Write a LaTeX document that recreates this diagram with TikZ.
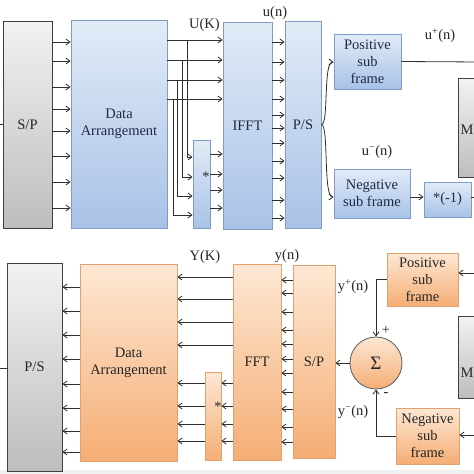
\documentclass[tikz,border=0pt]{standalone}
\usepackage{fontspec}
\setmainfont{Liberation Serif}
\usepackage{xcolor}
\usetikzlibrary{arrows.meta}
\definecolor{bluetop}{HTML}{E2EBF7}
\definecolor{bluebot}{HTML}{A8C2E7}
\definecolor{blueedge}{HTML}{7F9CC6}
\definecolor{orgtop}{HTML}{FDE8D5}
\definecolor{orgbot}{HTML}{F5AD74}
\definecolor{orgedge}{HTML}{E2A26F}
\definecolor{graytop}{HTML}{F2F2F2}
\definecolor{graybot}{HTML}{BDBDBD}
\definecolor{grayedge}{HTML}{404040}
\definecolor{wirec}{HTML}{2E2E2E}
\definecolor{navy}{HTML}{1F2A44}

\begin{document}
\begin{tikzpicture}[x=1pt,y=-1pt,
  font=\fontsize{14.5}{17}\selectfont,
  >={Straight Barb[length=4pt,width=6pt]},
  blk/.style={draw, inner sep=0pt, align=center, line width=0.9pt},
  bbox/.style={blk, draw=blueedge, top color=bluetop, bottom color=bluebot, text=navy},
  obox/.style={blk, draw=orgedge, top color=orgtop, bottom color=orgbot, text=black!85},
  gbox/.style={blk, draw=grayedge, top color=graytop, bottom color=graybot, text=black!85},
  wire/.style={draw=wirec, line width=0.8pt},
  sig/.style={wire, ->},
  tag/.style={inner sep=0pt, text=black!85}]
\useasboundingbox (0,0) rectangle (474,474);
\clip (0,0) rectangle (474,474);
\fill[gray!12] (0,470) rectangle (474,474);

%% transmitter
\node (sp1) [gbox, minimum width=49pt, minimum height=207pt] at (27.5,124.5) {S/P};
\node (da1) [bbox, minimum width=96pt, minimum height=208pt] at (119,124) {Data\\Arrangement};
\node (mul1) [bbox, minimum width=17pt, minimum height=88pt] at (201.5,184) {};
\node (st1) [tag] at (206,177) {*};
\node (ifft) [bbox, minimum width=49pt, minimum height=207pt] at (247.5,125.5) {IFFT};
\node (ps1) [bbox, minimum width=36pt, minimum height=207pt] at (303,124.5) {P/S};
\node (pos1) [bbox, minimum width=67pt, minimum height=55pt] at (367.5,61.5) {Positive\\sub\\frame};
\node (neg1) [bbox, minimum width=76pt, minimum height=49pt] at (372,193.5) {Negative\\sub frame};
\node (inv) [bbox, minimum width=47pt, minimum height=35pt] at (447.5,199.5) {*(-1)};
\node (mod1) [gbox, minimum width=24pt, minimum height=99pt, anchor=north west] at (458,78) {};
\node (mt1) [tag] at (467,130) {M};

\node (uk) [tag, anchor=east] at (220,25) {U(K)};
\node (un) [tag] at (275,13) {u(n)};
\node (up) [tag] at (440,36) {u\textsuperscript{+}(n)};
\node (um) [tag] at (377,152) {u\textsuperscript{−}(n)};

\coordinate (in1) at (0,124);
\coordinate (out1) at (480,62);
\coordinate (out2) at (480,197);
\draw[wire] (in1) -- (in1 -| sp1.west);
\foreach \y in {42,61,87,109,131,156,182,208}
  \draw[sig] (sp1.east |- 0,\y) -- (da1.west |- 0,\y);
\foreach \y/\x/\d in {40/187/157,60/182/177,80/177/196,99/173/215}{
  \draw[sig] (da1.east |- 0,\y) -- (ifft.west |- 0,\y);
  \draw[sig] (da1.east |- 0,\y) -| (\x,\d) -- (mul1.west |- 0,\d);
}
\foreach \y in {154,174,190,208}
  \draw[sig] (mul1.east |- 0,\y) -- (ifft.west |- 0,\y);
\foreach \y in {42,62,80,99,115,128,143,161,178,200,218}
  \draw[sig] (ifft.east |- 0,\y) -- (ps1.west |- 0,\y);
\draw[sig] (ps1.east) .. controls (329,124) and (323,62) .. (pos1.west |- 0,62);
\draw[sig] (ps1.east) .. controls (329,125) and (323,197) .. (neg1.west |- 0,197);
\draw[wire] (pos1.east) -- (out1);
\draw[sig] (neg1.east |- 0,197) -- (inv.west |- 0,197);
\draw[wire] (inv.east |- 0,197) -- (out2);

%% receiver
\node (ps2) [gbox, minimum width=55pt, minimum height=208pt] at (34.5,367) {P/S};
\node (da2) [obox, minimum width=97pt, minimum height=197pt] at (128.5,362.5) {Data\\Arrangement};
\node (mul2) [obox, minimum width=16pt, minimum height=88pt] at (213,416) {};
\node (st2) [tag] at (218,407) {*};
\node (fft) [obox, minimum width=48pt, minimum height=196pt] at (257,362) {FFT};
\node (sp2) [obox, minimum width=42pt, minimum height=193pt] at (314,361.5) {S/P};
\node (sum) [obox, circle, draw=black!60, minimum size=52pt] at (376,363) {\fontsize{19}{19}\selectfont Σ};
\node (pos2) [obox, minimum width=71pt, minimum height=53pt] at (422.5,279.5) {Positive\\sub\\frame};
\node (neg2) [obox, minimum width=63pt, minimum height=56pt] at (427.5,436) {Negative\\sub\\frame};
\node (mod2) [gbox, minimum width=24pt, minimum height=82pt, anchor=north west] at (458,316) {};
\node (mt2) [tag] at (467,373) {M};

\node (yk) [tag] at (205,257) {Y(K)};
\node (yn) [tag] at (287,256) {y(n)};
\node (yp) [tag] at (353,287) {y\textsuperscript{+}(n)};
\node (ym) [tag] at (353,412) {y\textsuperscript{−}(n)};
\node (plus) [tag] at (386,330) {+};
\node (minus) [tag] at (386,395) {-};

\coordinate (in2) at (0,368);
\coordinate (rin1) at (480,273);
\coordinate (rin2) at (480,435);
\draw[wire] (in2) -- (in2 -| ps2.west);
\foreach \y in {287,311,335,359,384,408,431,452}
  \draw[sig] (da2.west |- 0,\y) -- (ps2.east |- 0,\y);
\foreach \y in {277,299,322,345}
  \draw[sig] (fft.west |- 0,\y) -- (da2.east |- 0,\y);
\foreach \y in {383,406,424,441}{
  \draw[sig] (fft.west |- 0,\y) -- (mul2.east |- 0,\y);
  \draw[sig] (mul2.west |- 0,\y) -- (da2.east |- 0,\y);
}
\foreach \y in {280,293,312,330,344,359,373,392,409,427,442}
  \draw[sig] (sp2.west |- 0,\y) -- (fft.east |- 0,\y);
\draw[sig] (sum.west) -- (sum.west -| sp2.east);
\draw[sig] (pos2.west) -| (sum.north);
\draw[sig] (neg2.west) -| (sum.south);
\draw[sig] (rin1) -- (rin1 -| pos2.east);
\draw[sig] (rin2) -- (rin2 -| neg2.east);
\end{tikzpicture}
\end{document}
